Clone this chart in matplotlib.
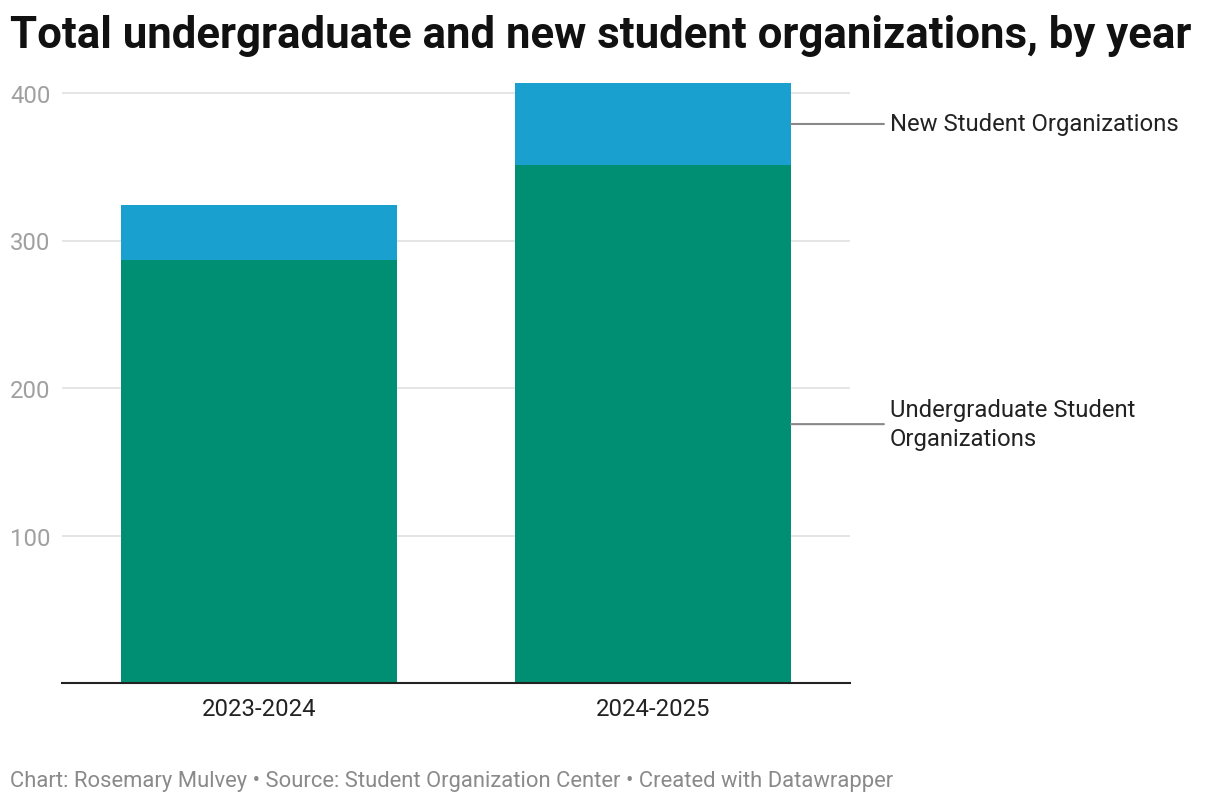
import matplotlib
matplotlib.use("Agg")
import matplotlib.pyplot as plt

years = ["2023-2024", "2024-2025"]
undergrad = [287, 351]
new_orgs = [37, 56]
series_labels = ["Undergraduate Student\nOrganizations", "New Student Organizations"]
yticks = [100, 200, 300, 400]

plt.rcParams['font.family'] = ['Roboto', 'DejaVu Sans']

W, H = 1220, 804
fig = plt.figure(figsize=(W/100, H/100), dpi=100)
ax_left, ax_right = 62, 850
ax_bottom, ax_top = 684, 79.25
ax = fig.add_axes([ax_left/W, (H-ax_bottom)/H, (ax_right-ax_left)/W, (ax_bottom-ax_top)/H])

green = "#018f73"
blue = "#1aa0ce"
x = list(range(len(years)))
ax.bar(x, undergrad, width=0.7, color=green, zorder=2)
ax.bar(x, new_orgs, bottom=undergrad, width=0.7, color=blue, zorder=2)

ax.set_xlim(-0.5, 1.5)
ax.set_ylim(0, 410)
ax.set_yticks(yticks)
ax.set_yticklabels([str(v) for v in yticks])
ax.set_xticks(x)
ax.set_xticklabels(years)
for s in ["top", "right", "left"]:
    ax.spines[s].set_visible(False)
ax.spines["bottom"].set_color("#222222")
ax.spines["bottom"].set_linewidth(1.5)
ax.grid(axis="y", color="#e3e3e3", linewidth=1.3, zorder=0)
ax.tick_params(axis="y", length=0, labelsize=17.2, labelcolor="#a0a0a0", pad=0)
for lbl in ax.get_yticklabels():
    lbl.set_horizontalalignment("left")
    lbl.set_x(-52/788)
ax.tick_params(axis="x", length=0, labelsize=17.2, labelcolor="#222222", pad=10)

# series labels on the right
last = len(years) - 1
bar_right = last + 0.35
mid_new = undergrad[last] + new_orgs[last] / 2
mid_ug = undergrad[last] / 2
for yv, txt in [(mid_new, series_labels[1]), (mid_ug, series_labels[0])]:
    ax.annotate("", xy=(bar_right, yv), xytext=(bar_right + (884-791)/394, yv),
                xycoords="data", textcoords="data", annotation_clip=False,
                arrowprops=dict(arrowstyle="-", color="#888888", lw=1.5,
                                shrinkA=0, shrinkB=0))
    ax.text(bar_right + (890-791)/394, yv, txt, fontsize=17.2, color="#222222",
            va="center", ha="left", clip_on=False, linespacing=1.3)

fig.text(10/W, 1 - 36/H, "Total undergraduate and new student organizations, by year",
         fontsize=31.5, fontweight="bold", color="#111111", va="center", ha="left")
fig.text(10/W, 1 - 782/H,
         "Chart: Rosemary Mulvey \u2022 Source: Student Organization Center \u2022 Created with Datawrapper",
         fontsize=15.8, color="#8a8a8a", va="center", ha="left")

fig.savefig("out.png", dpi=100, facecolor="white")
